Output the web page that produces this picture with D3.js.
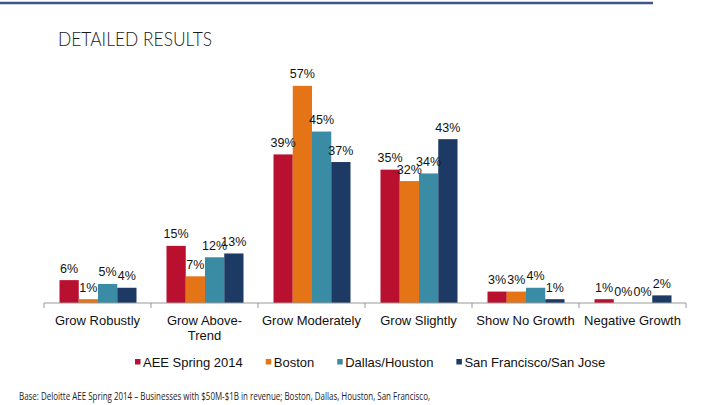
<!DOCTYPE html>
<html><head><meta charset="utf-8">
<script src="https://cdn.jsdelivr.net/npm/d3@7/dist/d3.min.js"></script>
<style>body{margin:0;background:#fff;} svg{display:block;}</style>
</head><body>
<svg id="chart" width="720" height="405"></svg>
<script>
const categories = ["Grow Robustly", "Grow Above-\nTrend", "Grow Moderately", "Grow Slightly", "Show No Growth", "Negative Growth"];
const seriesNames = ["AEE Spring 2014", "Boston", "Dallas/Houston", "San Francisco/San Jose"];
const aee = [6, 15, 39, 35, 3, 1];
const boston = [1, 7, 57, 32, 3, 0];
const dallas = [5, 12, 45, 34, 4, 0];
const sanfran = [4, 13, 37, 43, 1, 2];
const colors = ["#B8102E", "#E47415", "#3A8CA4", "#1C3A63"];
const title = "DETAILED RESULTS";
const footer = "Base:  Deloitte AEE Spring 2014 \u2013 Businesses with $50M-$1B in revenue; Boston, Dallas, Houston, San Francisco,";

const seriesValues = [aee, boston, dallas, sanfran];
const svg = d3.select("#chart");

// top rule
svg.append("line").attr("x1", 0).attr("x2", 653).attr("y1", 3).attr("y2", 3)
  .attr("stroke", "#3F5488").attr("stroke-width", 2.5);

// title
svg.append("text").attr("x", 58).attr("y", 46).text(title)
  .attr("font-family", "Lato, 'Open Sans', sans-serif").attr("font-weight", 300)
  .attr("font-size", 19.5).attr("fill", "#1a1a1a")
  .attr("textLength", 154).attr("lengthAdjust", "spacingAndGlyphs");

const x0 = d3.scaleBand().domain(categories).range([44, 686]).paddingInner(0).paddingOuter(0);
const x1 = d3.scaleBand().domain(seriesNames).range([15.5, 92.5]).padding(0);
const y = d3.scaleLinear().domain([0, 60]).range([303, 303 - 60 * 3.81]);

const groups = svg.append("g").selectAll("g").data(categories).join("g")
  .attr("transform", d => `translate(${x0(d)},0)`);

groups.each(function(cat, ci) {
  const g = d3.select(this);
  const data = seriesNames.map((s, si) => ({s, si, v: seriesValues[si][ci]}));
  g.selectAll("rect").data(data).join("rect")
    .attr("x", d => x1(d.s)).attr("width", x1.bandwidth())
    .attr("y", d => y(d.v)).attr("height", d => y(0) - y(d.v))
    .attr("fill", d => colors[d.si]);
  g.selectAll("text.val").data(data).join("text").attr("class", "val")
    .attr("x", d => x1(d.s) + x1.bandwidth() / 2)
    .attr("y", d => y(d.v) - 7.5)
    .attr("text-anchor", "middle")
    .attr("font-family", "'Liberation Sans', Arial, sans-serif")
    .attr("font-size", 12.5).attr("fill", "#111")
    .text(d => d.v + "%");
});

// axis
const axis = d3.axisBottom(x0).tickSize(0).tickFormat("");
const axG = svg.append("g").attr("transform", "translate(0,303)").call(axis);
axG.select(".domain").attr("stroke", "#999").attr("d", "M44,0H686");
const tickXs = categories.map(c => x0(c)).concat([686]);
svg.append("g").selectAll("line").data(tickXs).join("line")
  .attr("x1", d => d).attr("x2", d => d).attr("y1", 303).attr("y2", 308)
  .attr("stroke", "#999");

// category labels
const catLabels = svg.append("g").selectAll("text").data(categories).join("text")
  .attr("x", d => x0(d) + x0.bandwidth() / 2).attr("y", 325)
  .attr("text-anchor", "middle")
  .attr("font-family", "'Liberation Sans', Arial, sans-serif")
  .attr("font-size", 13).attr("fill", "#111");
catLabels.each(function(d) {
  const lines = d.split("\n");
  d3.select(this).selectAll("tspan").data(lines).join("tspan")
    .attr("x", x0(d) + x0.bandwidth() / 2)
    .attr("dy", (l, i) => i === 0 ? 0 : 15)
    .text(l => l);
});

// legend
const legend = svg.append("g");
let lx = 135;
seriesNames.forEach((s, i) => {
  legend.append("rect").attr("x", lx).attr("y", 359).attr("width", 5.5).attr("height", 5.5).attr("fill", colors[i]);
  const t = legend.append("text").attr("x", lx + 8).attr("y", 367)
    .attr("font-family", "'Liberation Sans', Arial, sans-serif")
    .attr("font-size", 13).attr("fill", "#111").text(s);
  lx = lx + 8 + t.node().getComputedTextLength() + 23;
});

// footer
svg.append("text").attr("x", 19).attr("y", 400).text(footer)
  .attr("font-family", "'Open Sans', Lato, sans-serif").attr("font-size", 10)
  .attr("fill", "#222")
  .attr("textLength", 411).attr("lengthAdjust", "spacingAndGlyphs");
</script>
</body></html>
